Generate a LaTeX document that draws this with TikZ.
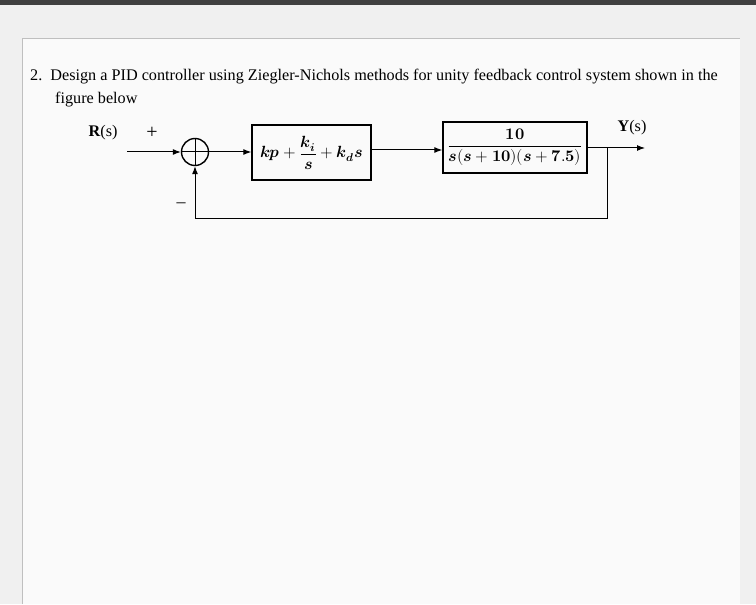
\documentclass[tikz,border=0pt]{standalone}
\usepackage{fontspec}
\usepackage{unicode-math}
\setmainfont{Liberation Serif}
\setmathfont{Latin Modern Math}
\usetikzlibrary{arrows.meta}
\begin{document}
\begin{tikzpicture}[x=1pt,y=-1pt,
  wire/.style={line width=1pt},
  arr/.style={wire,-{Latex[length=8pt,width=6pt]}},
  big/.style={font=\fontsize{16.2}{19}\selectfont},
  txt/.style={big,anchor=base west,inner sep=0pt}]
\fill[gray!12] (0,0) rectangle (756,604);
\fill[black!75] (0,0) rectangle (756,5);
\fill[white!96!gray] (22,38) rectangle (740,604);
\draw[gray!50] (22,604) -- (22,38) -- (740,38);
\useasboundingbox (0,0) rectangle (756,604);
\node[txt] (t1) at (30,81) {2.\ \ Design a PID controller using Ziegler-Nichols methods for unity feedback control system shown in the};
\node[txt] (t2) at (55,104) {figure below};
\node[big] (R) at (103,133) {\textbf{R}(s)};
\node[font=\fontsize{20}{22}\selectfont] (plus) at (152,133) {+};
\node[font=\fontsize{18}{20}\selectfont] (minus) at (181,205) {–};
\node[big] (Y) at (632,128) {\textbf{Y}(s)};
\coordinate (in) at (127,152);
\node[draw,circle,line width=1.4pt,minimum size=27pt,inner sep=0pt] (sum) at (195,152) {};
\draw[line width=1pt] (sum.north) -- (sum.south) (sum.west) -- (sum.east);
\node[draw,line width=1.4pt,minimum width=119pt,minimum height=55pt,inner sep=0pt,big] (c) at (311.5,152.5) {$\symbfit{kp}+\dfrac{\symbfit{k_i}}{\symbfit{s}}+\symbfit{k_d s}$};
\node[draw,line width=1.4pt,minimum width=144pt,minimum height=51pt,inner sep=0pt,big] (p) at (515,147.5) {$\dfrac{\symbf{10}}{\symbfit{s}\symbf{(}\symbfit{s}\symbf{+10)(}\symbfit{s}\symbf{+7.5)}}$};
\coordinate (out) at (645,148);
\coordinate (br) at (607,148);
\coordinate (fb1) at (607,219);
\coordinate (fb2) at (195,219);
\draw[arr] (in) -- (sum.west);
\draw[arr] (sum.east) -- (c.west |- sum.east);
\draw[arr] (c.east |- 0,150) -- (p.west |- 0,150);
\draw[arr] (p.east |- br) -- (out);
\draw[arr] (br) -- (fb1) -- (fb2) -- (sum.south);
\end{tikzpicture}
\end{document}
